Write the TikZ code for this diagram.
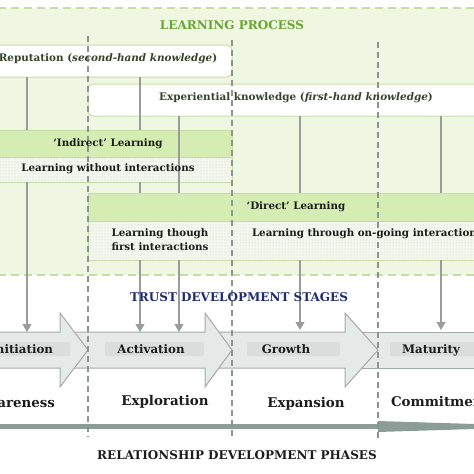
\documentclass[tikz,border=0pt]{standalone}
\usepackage{fontspec}
\setmainfont{DejaVu Serif}
\usetikzlibrary{patterns,arrows.meta,calc}
\definecolor{bgG}{HTML}{EFF7E3}
\definecolor{lineG}{HTML}{C6DEA4}
\definecolor{bandG}{HTML}{D5ECB2}
\definecolor{dotbg}{HTML}{F4F8EE}
\definecolor{titleG}{HTML}{6AA534}
\definecolor{navy}{HTML}{1F2D6E}
\definecolor{txtG}{HTML}{34432A}
\definecolor{txtD}{HTML}{1C1C1C}
\definecolor{arrowF}{HTML}{E5E9E7}
\definecolor{arrowD}{HTML}{A3ABA8}
\definecolor{labelF}{HTML}{D9DEDC}
\definecolor{axisG}{HTML}{8C9C97}
\definecolor{vlineC}{HTML}{989C9A}
\definecolor{dashC}{HTML}{8E9290}
\begin{document}
\begin{tikzpicture}[x=1pt,y=-1pt,
  every node/.style={inner sep=0pt, outer sep=0pt},
  kbox/.style={draw=lineG, line width=1pt, fill=white, rounded corners=5pt, anchor=north west},
  band/.style={draw=lineG, line width=0.8pt, fill=bandG, anchor=north west},
  dotband/.style={draw=lineG, line width=0.8pt, fill=dotbg, anchor=north west,
     postaction={pattern=dots, pattern color=black!22}},
  ktext/.style={text=txtG, font=\fontsize{10.4}{12}\selectfont\bfseries},
  ltext/.style={text=txtD, font=\fontsize{10.3}{13.8}\selectfont\bfseries, align=center},
  vl/.style={draw=vlineC, line width=1.1pt},
  vla/.style={vl, -{Triangle[width=9pt,length=8pt]}},
  stagearrow/.style={draw=arrowD, line width=1pt, fill=arrowF},
  stagebox/.style={fill=labelF, rounded corners=2pt, minimum height=14pt},
  stagetext/.style={text=txtD, font=\fontsize{11.8}{13}\selectfont\bfseries},
  phasetext/.style={text=txtD, font=\fontsize{13.4}{15}\selectfont\bfseries},
  titletext/.style={font=\fontsize{12}{14}\selectfont\bfseries},
  phasedash/.style={draw=dashC, line width=1.2pt, dash pattern=on 6pt off 4pt},
  bgdash/.style={draw=lineG, line width=1.2pt, dash pattern=on 8pt off 5pt}
]
\useasboundingbox (0,0) rectangle (474,474);
\clip (0,0) rectangle (474,474);

% learning process background
\fill[bgG] (-5,8) rectangle (480,275);
\draw[bgdash] (-2,8) -- (476,8);
\draw[bgdash] (-2,275) -- (476,275);

% column coordinates
\coordinate (c1) at (27,0);
\coordinate (c2) at (140,0);
\coordinate (c3) at (179,0);
\coordinate (c4) at (300,0);
\coordinate (c5) at (441,0);
\coordinate (s1) at (0,332);
\coordinate (s3) at (0,330);
\coordinate (indtop) at (0,130);

% knowledge boxes
\node[kbox, minimum width=245pt, minimum height=32pt] (rep) at (-13,45) {};
\node[kbox, minimum width=400pt, minimum height=32pt] (exp) at (88,84) {};

\draw[vl] (rep.south -| c1) -- (indtop -| c1);
\draw[vl] (rep.south -| c2) -- (indtop -| c2);

% indirect learning bands
\node[band, minimum width=245pt, minimum height=27pt] (ind) at (-13,130) {};
\node[dotband, minimum width=245pt, minimum height=25pt] (indd) at (-13,157) {};

% direct learning bands
\node[band, minimum width=400pt, minimum height=28pt] (dir) at (88,193) {};
\node[dotband, minimum width=400pt, minimum height=39pt] (dird) at (88,221) {};

% lines from experiential knowledge
\draw[vl] (exp.south -| c3) -- (dir.north -| c3);
\draw[vl] (exp.south -| c4) -- (dir.north -| c4);
\draw[vl] (exp.south -| c5) -- (dir.north -| c5);
\draw[vl] (indd.south -| c2) -- (dir.north -| c2);

% stage arrows (drawn right to left so earlier ones overlap)
\draw[stagearrow] (345,332) -- (490,332) -- (490,368) -- (345,368) -- cycle;
\draw[stagearrow] (205,332) -- (345,332) -- (345,313) -- (378,350) -- (345,387) -- (345,368) -- (205,368) -- cycle;
\draw[stagearrow] (60,332) -- (205,332) -- (205,313) -- (232,350) -- (205,387) -- (205,368) -- (60,368) -- cycle;
\draw[stagearrow] (-10,332) -- (60,332) -- (60,313) -- (88,350) -- (60,387) -- (60,368) -- (-10,368) -- cycle;

% stage label boxes
\node[stagebox, minimum width=82pt] (ini) at (29,349) {};
\node[stagebox, minimum width=99pt] (act) at (154.5,349) {};
\node[stagebox, minimum width=93pt] (gro) at (293.5,349) {};
\node[stagebox, minimum width=90pt] (mat) at (435,349) {};
\node[stagetext, anchor=east] (initxt) at (53,349) {Initiation};
\node[stagetext] (acttxt) at (151,349) {Activation};
\node[stagetext] (grotxt) at (286,349) {Growth};
\node[stagetext] (mattxt) at (431,350) {Maturity};

% arrows down to stages
\draw[vla] (indd.south -| c1) -- (s1 -| c1);
\draw[vla] (dird.south -| c2) -- (s1 -| c2);
\draw[vla] (dird.south -| c3) -- (s1 -| c3);
\draw[vla] (dird.south -| c4) -- (s3 -| c4);
\draw[vla] (dird.south -| c5) -- (s3 -| c5);

% phase axis
\coordinate (ax0) at (-5,426.5);
\coordinate (ax1) at (378,426.5);
\draw[axisG, line width=5.5pt] (ax0) -- (ax1);
\fill[axisG] (378,421) -- (555,426.5) -- (378,432) -- cycle;

% phase labels
\node[phasetext, anchor=east] (aw) at (55,403) {Awareness};
\node[phasetext] (ex) at (165,402) {Exploration};
\node[phasetext] (exn) at (306,404) {Expansion};
\node[phasetext, anchor=west] (com) at (391,401) {Commitment};

% phase dashed separators
\draw[phasedash] (88,36) -- (88,437);
\draw[phasedash] (232,40) -- (232,438);
\draw[phasedash] (378,42) -- (378,438);

% texts in learning area
\node[ktext] (reptxt) at (108,59) {Reputation (\textit{second-hand knowledge})};
\node[ktext] (exptxt) at (296,98) {Experiential knowledge (\textit{first-hand knowledge})};
\node[ltext] (indtxt) at (108,143.5) {‘Indirect’ Learning};
\node[ltext] (inddtxt) at (108,169) {Learning without interactions};
\node[ltext] (dirtxt) at (296,207) {‘Direct’ Learning};
\node[ltext] (dird1) at (160,240) {Learning though\\first interactions};
\node[ltext, anchor=west] (dird2) at (252,234) {Learning through on-going interactions};

% titles
\node[titletext, text=titleG] (lp) at (232,25) {LEARNING PROCESS};
\node[titletext, text=navy] (tds) at (239,297) {TRUST DEVELOPMENT STAGES};
\node[titletext, text=txtD] (rdp) at (237,455) {RELATIONSHIP DEVELOPMENT PHASES};
\end{tikzpicture}
\end{document}
